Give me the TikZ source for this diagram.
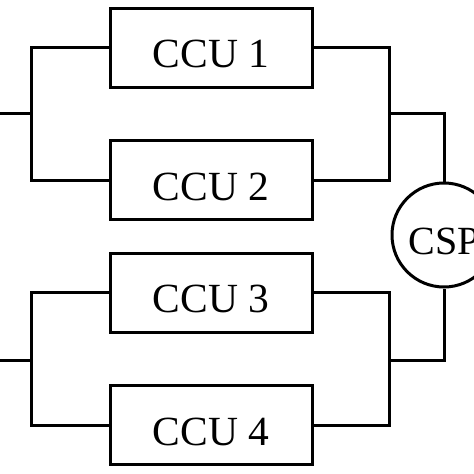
\documentclass[tikz,border=0pt]{standalone}
\usepackage{fontspec}
\setmainfont{Liberation Serif}
\begin{document}
\begin{tikzpicture}[x=1pt,y=-1pt,line width=3pt,
  ccu/.style={draw,rectangle,minimum width=202pt,minimum height=79pt,inner sep=0pt,
    font=\fontsize{41.5}{48}\selectfont,text height=40pt,text depth=0pt},
  csp/.style={draw,circle,minimum size=104pt,inner sep=0pt,
    font=\fontsize{40}{46}\selectfont,text height=38pt,text depth=0pt},
  wire/.style={line cap=rect}]
\useasboundingbox (0,0) rectangle (474,474);
\clip (0,0) rectangle (474,474);
\node[ccu] (c1) at (211,47.5) {CCU 1};
\node[ccu] (c2) at (211,180) {CCU 2};
\node[ccu] (c3) at (211,292.5) {CCU 3};
\node[ccu] (c4) at (211,425) {CCU 4};
\node[csp] (p) at (444,235) {CSP};
\coordinate (in1) at (-5,113);
\coordinate (in2) at (-5,360);
\coordinate (j1) at (31,113);
\coordinate (j2) at (31,360);
\coordinate (k1) at (389,113);
\coordinate (k2) at (389,360);
% left brackets
\draw (in1) -- (j1);
\draw (c1.west) -| (j1) |- (c2.west);
\draw (in2) -- (j2);
\draw (c3.west) -| (j2) |- (c4.west);
% right brackets
\draw (c1.east) -| (k1) |- (c2.east);
\draw (k1) -| (p.north);
\draw (c3.east) -| (k2) |- (c4.east);
\draw (k2) -| (p.south);
\end{tikzpicture}
\end{document}
